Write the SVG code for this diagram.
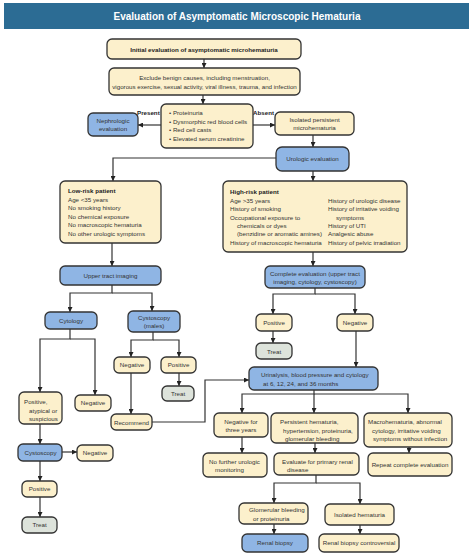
<svg xmlns="http://www.w3.org/2000/svg" width="474" height="557" viewBox="0 0 474 557">
<defs>
<marker id="ah" viewBox="0 0 10 10" refX="10" refY="5" markerWidth="5" markerHeight="5" markerUnits="userSpaceOnUse" orient="auto"><path d="M0,0 L10,5 L0,10 z" fill="#222"/></marker>
<style>
rect.c{fill:#fcf0cc;stroke:#333;stroke-width:1.3}
rect.b{fill:#8fb5e4;stroke:#333;stroke-width:1.3}
rect.g{fill:#dde3db;stroke:#333;stroke-width:1.3}
text{font-family:"Liberation Sans",Arial,sans-serif;font-size:6.2px;fill:#333}
.m{text-anchor:middle}
.bd{font-weight:bold;fill:#222}
#connectors path{fill:none;stroke:#333;stroke-width:1.2}
.a{marker-end:url(#ah)}
</style>
</defs>
<rect x="0" y="0" width="474" height="557" fill="#fff"/>
<g id="title">
<rect x="4" y="3" width="465" height="26" fill="#2c6c94"/>
<text x="237" y="20" class="m" style="font-size:10px;font-weight:bold;fill:#fff">Evaluation of Asymptomatic Microscopic Hematuria</text>
</g>
<g id="connectors">
<path class="a" d="M204,59 V68"/>
<path class="a" d="M203,95 V104"/>
<path class="a" d="M161,125 H138"/>
<path class="a" d="M253,125 H275"/>
<path class="a" d="M313,135 V147"/>
<path class="a" d="M276,158 H113 V181"/>
<path class="a" d="M313,171 V181"/>
<path class="a" d="M112,243 V266"/>
<path class="a" d="M313,252 V266"/>
<path class="a" d="M315,288 V294 H273 V314"/>
<path class="a" d="M315,294 H355 V314"/>
<path class="a" d="M273,331 V343"/>
<path class="a" d="M356,331 V367"/>
<path class="a" d="M112,285 V293 H70 V312"/>
<path class="a" d="M112,293 H152 V311"/>
<path class="a" d="M70,329 V339 H40 V392"/>
<path class="a" d="M70,339 H95 V395"/>
<path class="a" d="M153,332 V340 H131 V357"/>
<path class="a" d="M153,340 H179 V357"/>
<path class="a" d="M179,373 V386"/>
<path class="a" d="M131,373 V414"/>
<path class="a" d="M152,422 H205 V380 H249"/>
<path class="a" d="M40,424 V444"/>
<path class="a" d="M62,452 H77"/>
<path class="a" d="M40,461 V481"/>
<path class="a" d="M40,497 V517"/>
<path class="a" d="M314,390 V394 H242 V413"/>
<path class="a" d="M314,394 H408 V413"/>
<path class="a" d="M314,394 V413"/>
<path class="a" d="M242,437 V453"/>
<path class="a" d="M315,443 V453"/>
<path class="a" d="M409,447 V453"/>
<path class="a" d="M316,475 V483 H274 V503"/>
<path class="a" d="M316,483 H360 V504"/>
<path class="a" d="M274,524 V534"/>
<path class="a" d="M360,525 V534"/>
</g>
<g id="labels">
<text x="137" y="115" class="bd">Present</text>
<text x="253" y="115" class="bd">Absent</text>
</g>
<g id="n-initial"><rect class="c" x="107" y="39" width="194" height="20" rx="5"/><text x="204" y="51.5" class="m bd">Initial evaluation of asymptomatic microhematuria</text></g>
<g id="n-exclude"><rect class="c" x="109" y="68" width="191" height="27" rx="5"/><text x="204.5" y="80" class="m">Exclude benign causes, including menstruation,</text><text x="204.5" y="89" class="m">vigorous exercise, sexual activity, viral illness, trauma, and infection</text></g>
<g id="n-findings"><rect class="c" x="161" y="104" width="92" height="44" rx="5"/><text x="169" y="115">• Proteinuria</text><text x="169" y="123.5">• Dysmorphic red blood cells</text><text x="169" y="132">• Red cell casts</text><text x="169" y="140.5">• Elevated serum creatinine</text></g>
<g id="n-nephro"><rect class="b" x="88" y="113" width="50" height="23" rx="5"/><text x="113" y="122.5" class="m">Nephrologic</text><text x="113" y="131" class="m">evaluation</text></g>
<g id="n-isolated"><rect class="c" x="275" y="112" width="79" height="23" rx="5"/><text x="314.5" y="121.5" class="m">Isolated persistent</text><text x="314.5" y="130" class="m">microhematuria</text></g>
<g id="n-urologic"><rect class="b" x="276" y="147" width="73" height="24" rx="6"/><text x="312.5" y="161" class="m">Urologic evaluation</text></g>
<g id="n-lowrisk"><rect class="c" x="60" y="181" width="101" height="62" rx="5"/><text x="68" y="193" class="bd">Low-risk patient</text><text x="68" y="201.5">Age &lt;35 years</text><text x="68" y="210">No smoking history</text><text x="68" y="218.5">No chemical exposure</text><text x="68" y="227">No macroscopic hematuria</text><text x="68" y="235.5">No other urologic symptoms</text></g>
<g id="n-upper"><rect class="b" x="60" y="266" width="101" height="19" rx="5"/><text x="110.5" y="278" class="m">Upper tract imaging</text></g>
<g id="n-highrisk"><rect class="c" x="223" y="181" width="184" height="71" rx="5"/><text x="230" y="194" class="bd">High-risk patient</text><text x="230" y="202.5">Age &gt;35 years</text><text x="230" y="211">History of smoking</text><text x="230" y="219.5">Occupational exposure to</text><text x="237" y="227.5">chemicals or dyes</text><text x="237" y="236">(benzidine or aromatic amines)</text><text x="230" y="244.5">History of macroscopic hematuria</text><text x="328" y="202.5">History of urologic disease</text><text x="328" y="211">History of irritative voiding</text><text x="336" y="219.5">symptoms</text><text x="328" y="227.5">History of UTI</text><text x="328" y="236">Analgesic abuse</text><text x="328" y="244.5">History of pelvic irradiation</text></g>
<g id="n-complete"><rect class="b" x="265" y="266" width="100" height="22" rx="5"/><text x="315" y="275.5" class="m">Complete evaluation (upper tract</text><text x="315" y="284" class="m">imaging, cytology, cystoscopy)</text></g>
<g id="n-pos-hr"><rect class="c" x="256" y="314" width="36" height="17" rx="5"/><text x="274" y="324.5" class="m">Positive</text></g>
<g id="n-treat-hr"><rect class="g" x="256" y="343" width="36" height="16" rx="5"/><text x="274" y="353.5" class="m">Treat</text></g>
<g id="n-neg-hr"><rect class="c" x="337" y="314" width="36" height="17" rx="5"/><text x="355" y="324.5" class="m">Negative</text></g>
<g id="n-urinalysis"><rect class="b" x="249" y="367" width="129" height="23" rx="5"/><text x="261" y="377">Urinalysis, blood pressure and cytology</text><text x="263" y="386">at 6, 12, 24, and 36 months</text></g>
<g id="n-cytology"><rect class="b" x="45" y="312" width="52" height="17" rx="5"/><text x="71" y="323" class="m">Cytology</text></g>
<g id="n-cysto-m"><rect class="b" x="128" y="311" width="52" height="21" rx="5"/><text x="154" y="319.5" class="m">Cystoscopy</text><text x="154" y="328" class="m">(males)</text></g>
<g id="n-neg-cm"><rect class="c" x="114" y="357" width="36" height="16" rx="5"/><text x="132" y="367" class="m">Negative</text></g>
<g id="n-pos-cm"><rect class="c" x="161" y="357" width="35" height="16" rx="5"/><text x="178.5" y="367" class="m">Positive</text></g>
<g id="n-treat-cm"><rect class="g" x="162" y="386" width="32" height="15" rx="5"/><text x="178" y="396" class="m">Treat</text></g>
<g id="n-recommend"><rect class="c" x="111" y="414" width="41" height="16" rx="5"/><text x="131.5" y="424.5" class="m">Recommend</text></g>
<g id="n-posatyp"><rect class="c" x="19" y="392" width="43" height="32" rx="5"/><text x="24" y="404">Positive,</text><text x="29" y="412.5">atypical or</text><text x="29" y="421">suspicious</text></g>
<g id="n-neg-cy"><rect class="c" x="75" y="395" width="36" height="16" rx="5"/><text x="93" y="405" class="m">Negative</text></g>
<g id="n-cysto2"><rect class="b" x="18" y="444" width="44" height="17" rx="5"/><text x="40.5" y="455" class="m">Cystoscopy</text></g>
<g id="n-neg2"><rect class="c" x="77" y="445" width="36" height="16" rx="5"/><text x="95" y="455" class="m">Negative</text></g>
<g id="n-pos2"><rect class="c" x="22" y="481" width="35" height="16" rx="5"/><text x="39.5" y="491" class="m">Positive</text></g>
<g id="n-treat2"><rect class="g" x="22" y="517" width="35" height="16" rx="5"/><text x="39.5" y="527" class="m">Treat</text></g>
<g id="n-three"><rect class="c" x="214" y="413" width="54" height="24" rx="5"/><text x="241" y="423.5" class="m">Negative for</text><text x="241" y="432" class="m">three years</text></g>
<g id="n-persistent"><rect class="c" x="271" y="413" width="87" height="30" rx="5"/><text x="280" y="424">Persistent hematuria,</text><text x="283" y="432.5">hypertension, proteinuria,</text><text x="285" y="440.5">glomerular bleeding</text></g>
<g id="n-macro"><rect class="c" x="364" y="413" width="88" height="34" rx="5"/><text x="368" y="424">Macrohematuria, abnormal</text><text x="372" y="432.5">cytology, irritative voiding</text><text x="373" y="441">symptoms without infection</text></g>
<g id="n-nofurther"><rect class="c" x="203" y="453" width="64" height="24" rx="5"/><text x="209" y="463.5">No further urologic</text><text x="215" y="472">monitoring</text></g>
<g id="n-evaluate"><rect class="c" x="274" y="453" width="85" height="22" rx="5"/><text x="282" y="463.5">Evaluate for primary renal</text><text x="287" y="472">disease</text></g>
<g id="n-repeat"><rect class="c" x="368" y="453" width="84" height="23" rx="5"/><text x="410" y="466.5" class="m">Repeat complete evaluation</text></g>
<g id="n-glom"><rect class="c" x="239" y="503" width="69" height="21" rx="5"/><text x="249" y="512">Glomerular bleeding</text><text x="253" y="520.5">or proteinuria</text></g>
<g id="n-isohem"><rect class="c" x="325" y="504" width="69" height="21" rx="5"/><text x="359.5" y="516.5" class="m">Isolated hematuria</text></g>
<g id="n-biopsy"><rect class="b" x="242" y="534" width="66" height="18" rx="5"/><text x="275" y="545" class="m">Renal biopsy</text></g>
<g id="n-biopsy-c"><rect class="c" x="319" y="534" width="80" height="18" rx="5"/><text x="359" y="545" class="m">Renal biopsy controversial</text></g>
</svg>
